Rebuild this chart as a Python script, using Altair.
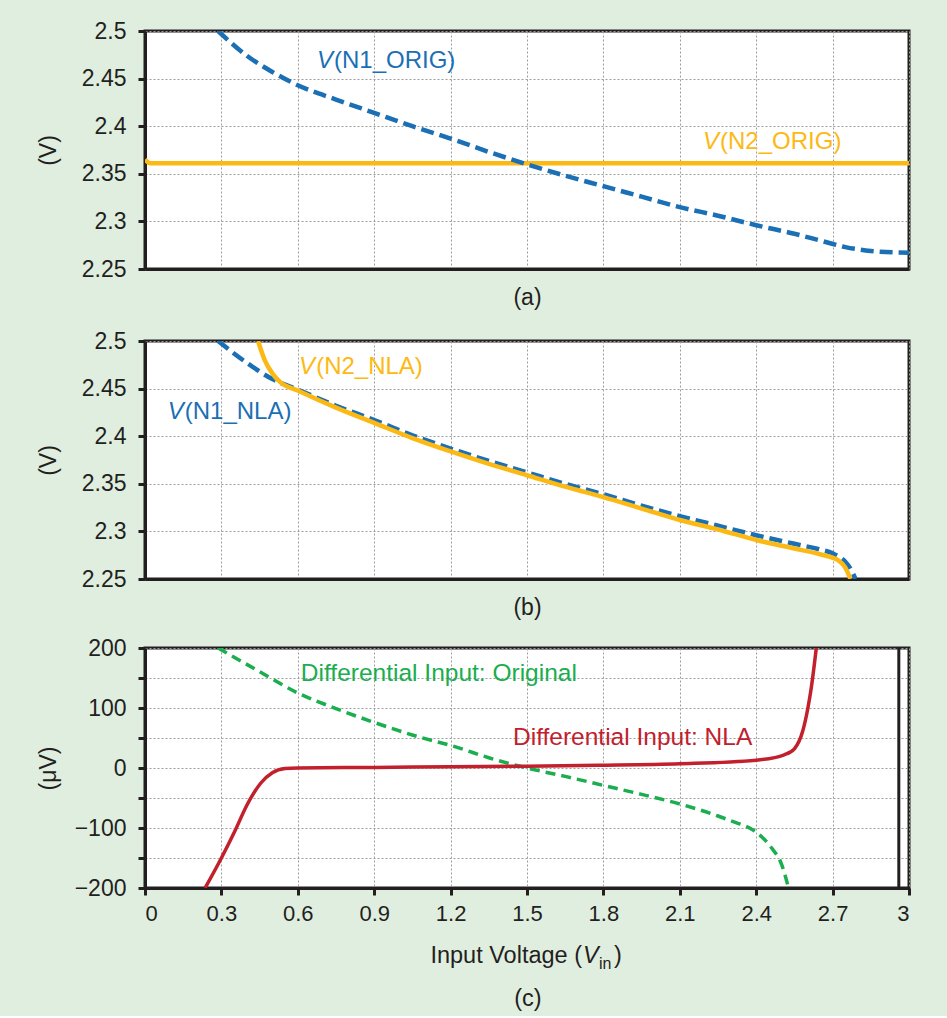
import altair as alt
import pandas as pd

# ---------------- data ----------------
x_ticks = [0, 0.3, 0.6, 0.9, 1.2, 1.5, 1.8, 2.1, 2.4, 2.7, 3.0]
v_ticks = [2.25, 2.3, 2.35, 2.4, 2.45, 2.5]
uv_ticks = [-200, -150, -100, -50, 0, 50, 100, 150, 200]

# (a)
a_n1_x = [0.287, 0.4, 0.5, 0.6, 0.75, 0.9, 1.05, 1.2, 1.35, 1.5, 1.65, 1.8, 1.95, 2.1, 2.25, 2.4, 2.55, 2.65, 2.75, 2.85, 3.0]
a_n1_y = [2.5, 2.474, 2.457, 2.443, 2.428, 2.414, 2.400, 2.387, 2.373, 2.360, 2.348, 2.337, 2.326, 2.315, 2.306, 2.296, 2.287, 2.280, 2.273, 2.269, 2.267]
a_n2_x = [0.0, 0.02, 3.0]
a_n2_y = [2.365, 2.361, 2.361]

# (b)
b_n1_x = [0.287, 0.4, 0.5, 0.6, 0.75, 0.9, 1.05, 1.2, 1.35, 1.5, 1.65, 1.8, 1.95, 2.1, 2.25, 2.4, 2.55, 2.65, 2.7, 2.75, 2.77, 2.79]
b_n1_y = [2.5, 2.477, 2.46, 2.449, 2.432, 2.417, 2.401, 2.387, 2.374, 2.362, 2.350, 2.339, 2.327, 2.316, 2.306, 2.296, 2.287, 2.281, 2.277, 2.268, 2.261, 2.25]
b_n2_x = [0.444, 0.47, 0.5, 0.53, 0.6, 0.75, 0.9, 1.05, 1.2, 1.35, 1.5, 1.65, 1.8, 1.95, 2.1, 2.25, 2.4, 2.55, 2.65, 2.72, 2.75, 2.77]
b_n2_y = [2.5, 2.48, 2.466, 2.457, 2.448, 2.430, 2.414, 2.398, 2.384, 2.371, 2.359, 2.347, 2.336, 2.324, 2.312, 2.302, 2.291, 2.282, 2.276, 2.270, 2.262, 2.25]

# (c)
c_orig_x = [0.287, 0.444, 0.6, 0.75, 0.9, 1.05, 1.229, 1.35, 1.5, 1.65, 1.8, 1.95, 2.1, 2.25, 2.3, 2.4, 2.46, 2.5, 2.527]
c_orig_y = [200, 162, 125, 99, 76, 55, 34, 17, 0, -14, -29, -44, -60, -80, -88, -107, -133, -161, -200]
c_nla_x = [0.236, 0.3, 0.353, 0.4, 0.455, 0.5, 0.55, 0.6, 0.9, 1.2, 1.5, 1.78, 2.1, 2.4, 2.51, 2.55, 2.583, 2.603, 2.616, 2.636]
c_nla_y = [-200, -150, -105, -62, -25, -8, -1, 0, 1, 2, 3, 4.5, 7, 13, 22, 32, 62, 100, 133, 200]
c_marker_x = [2.96]

# annotations: italic "V" goes right before the split point, the rest after it
ann_a = {"txt": ["(N1_ORIG)", "(N2_ORIG)"], "x": [0.742, 2.258], "y": [2.4685, 2.383]}
ann_b = {"txt": ["(N2_NLA)", "(N1_NLA)"], "x": [0.672, 0.156], "y": [2.473, 2.4257]}
ann_c = {"txt": ["Differential Input: Original", "Differential Input: NLA"], "x": [0.612, 1.445], "y": [157, 50]}

# ---------------- style ----------------
BG = "#e0eedf"
BLUE = "#1a6fb5"
ORANGE = "#fdb913"
GREEN = "#1aae4e"
RED = "#c1202c"
INK = "#231f20"
FONT = "Liberation Sans"
GRID = "#9c9c9c"
W = 764

def x_enc(caption=None, show_labels=False):
    ax = dict(values=x_ticks, grid=True, gridColor=GRID, gridDash=[2, 2], gridWidth=1,
              domainColor=INK, domainWidth=3, labelFont=FONT, labelFontSize=22,
              labelColor=INK, format="~g", titleFont=FONT, titleFontSize=23,
              titleFontWeight="normal", titleColor=INK)
    if show_labels:
        ax.update(labels=True, ticks=True, tickColor=INK, tickWidth=3, tickSize=7,
                  labelPadding=8, title=None)
    else:
        ax.update(labels=False, ticks=False, title=caption, titlePadding=17)
    return alt.X("x:Q", scale=alt.Scale(domain=[0, 3], nice=False, zero=False), axis=alt.Axis(**ax))

def y_enc(domain, ticks, title, h, label_expr=None):
    ax = dict(values=ticks, grid=True, gridColor=GRID, gridDash=[2, 2], gridWidth=1,
              domainColor=INK, domainWidth=3, tickColor=INK, tickWidth=3, tickSize=7,
              labelFont=FONT, labelFontSize=23, labelColor=INK, labelPadding=12,
              format="~g", title=title, titleFont=FONT, titleFontSize=23,
              titleFontWeight="normal", titleColor=INK, titleAngle=-90,
              titleX=-97, titleY=h / 2, titleAlign="center", titleBaseline="middle")
    if label_expr:
        ax["labelExpr"] = label_expr
    return alt.Y("y:Q", scale=alt.Scale(domain=domain, nice=False, zero=False), axis=alt.Axis(**ax))

def line(xs, ys, color, width, X, Y, dash=None):
    kw = dict(color=color, strokeWidth=width, clip=True, interpolate="monotone")
    if dash:
        kw["strokeDash"] = dash
    return alt.Chart(pd.DataFrame({"x": xs, "y": ys})).mark_line(**kw).encode(x=X, y=Y)

def vlabel(ann, i, color, X, Y):
    df = pd.DataFrame({"x": [ann["x"][i]], "y": [ann["y"][i]]})
    v = alt.Chart(df).mark_text(text="V", font=FONT, fontSize=24, fontStyle="italic",
                                color=color, align="right", baseline="middle", dx=-1).encode(x=X, y=Y)
    rest = alt.Chart(df).mark_text(text=ann["txt"][i], font=FONT, fontSize=24,
                                   color=color, align="left", baseline="middle").encode(x=X, y=Y)
    return v + rest

def plain_label(ann, i, color, X, Y):
    df = pd.DataFrame({"x": [ann["x"][i]], "y": [ann["y"][i]]})
    return alt.Chart(df).mark_text(text=ann["txt"][i], font=FONT, fontSize=24.5,
                                   color=color, align="left", baseline="middle").encode(x=X, y=Y)

# ---------------- panel (a) ----------------
Xa = x_enc("(a)")
Ya = y_enc([2.25, 2.5], v_ticks, "(V)", 238)
panel_a = alt.layer(
    line(a_n2_x, a_n2_y, ORANGE, 4.5, Xa, Ya),
    line(a_n1_x, a_n1_y, BLUE, 4.5, Xa, Ya, dash=[13, 6]),
    vlabel(ann_a, 0, BLUE, Xa, Ya),
    vlabel(ann_a, 1, ORANGE, Xa, Ya),
).properties(width=W, height=238)

# ---------------- panel (b) ----------------
Xb = x_enc("(b)")
Yb = y_enc([2.25, 2.5], v_ticks, "(V)", 238)
panel_b = alt.layer(
    line(b_n1_x, b_n1_y, BLUE, 4.5, Xb, Yb, dash=[13, 6]),
    line(b_n2_x, b_n2_y, ORANGE, 4.5, Xb, Yb),
    vlabel(ann_b, 0, ORANGE, Xb, Yb),
    vlabel(ann_b, 1, BLUE, Xb, Yb),
).properties(width=W, height=238)

# ---------------- panel (c) ----------------
Xc = x_enc(show_labels=True)
Yc = y_enc([-200, 200], uv_ticks, "(μV)", 240,
           label_expr="datum.value % 100 == 0 ? format(datum.value, '~g') : ''")

def free_text(txt, x, y, size, style="normal", align="left"):
    return alt.Chart(pd.DataFrame({"t": [txt]})).mark_text(
        text=txt, font=FONT, fontSize=size, fontStyle=style, color=INK,
        align=align, baseline="alphabetic").encode(x=alt.value(x), y=alt.value(y))

panel_c = alt.layer(
    alt.Chart(pd.DataFrame({"x": c_marker_x})).mark_rule(color=INK, strokeWidth=3).encode(x=Xc),
    line(c_orig_x, c_orig_y, GREEN, 3.5, Xc, Yc, dash=[10, 6]),
    line(c_nla_x, c_nla_y, RED, 3.5, Xc, Yc),
    plain_label(ann_c, 0, GREEN, Xc, Yc),
    plain_label(ann_c, 1, RED, Xc, Yc),
    free_text("Input Voltage (", 437, 315, 23.5, align="right"),
    free_text("V", 438, 315, 23.5, style="italic"),
    free_text("in", 454, 321, 16),
    free_text(")", 469, 315, 23.5),
    free_text("(c)", 383, 358, 23.5, align="center"),
).properties(width=W, height=240)

chart = alt.vconcat(
    alt.vconcat(panel_a, panel_b, spacing=17),
    panel_c,
    spacing=14,
).properties(
    background=BG,
    padding={"left": 35, "top": 18, "right": 35, "bottom": 4},
).configure_view(stroke=INK, strokeWidth=3, fill="white")

chart.save("out.html", embed_options={"renderer": "svg", "actions": False})
